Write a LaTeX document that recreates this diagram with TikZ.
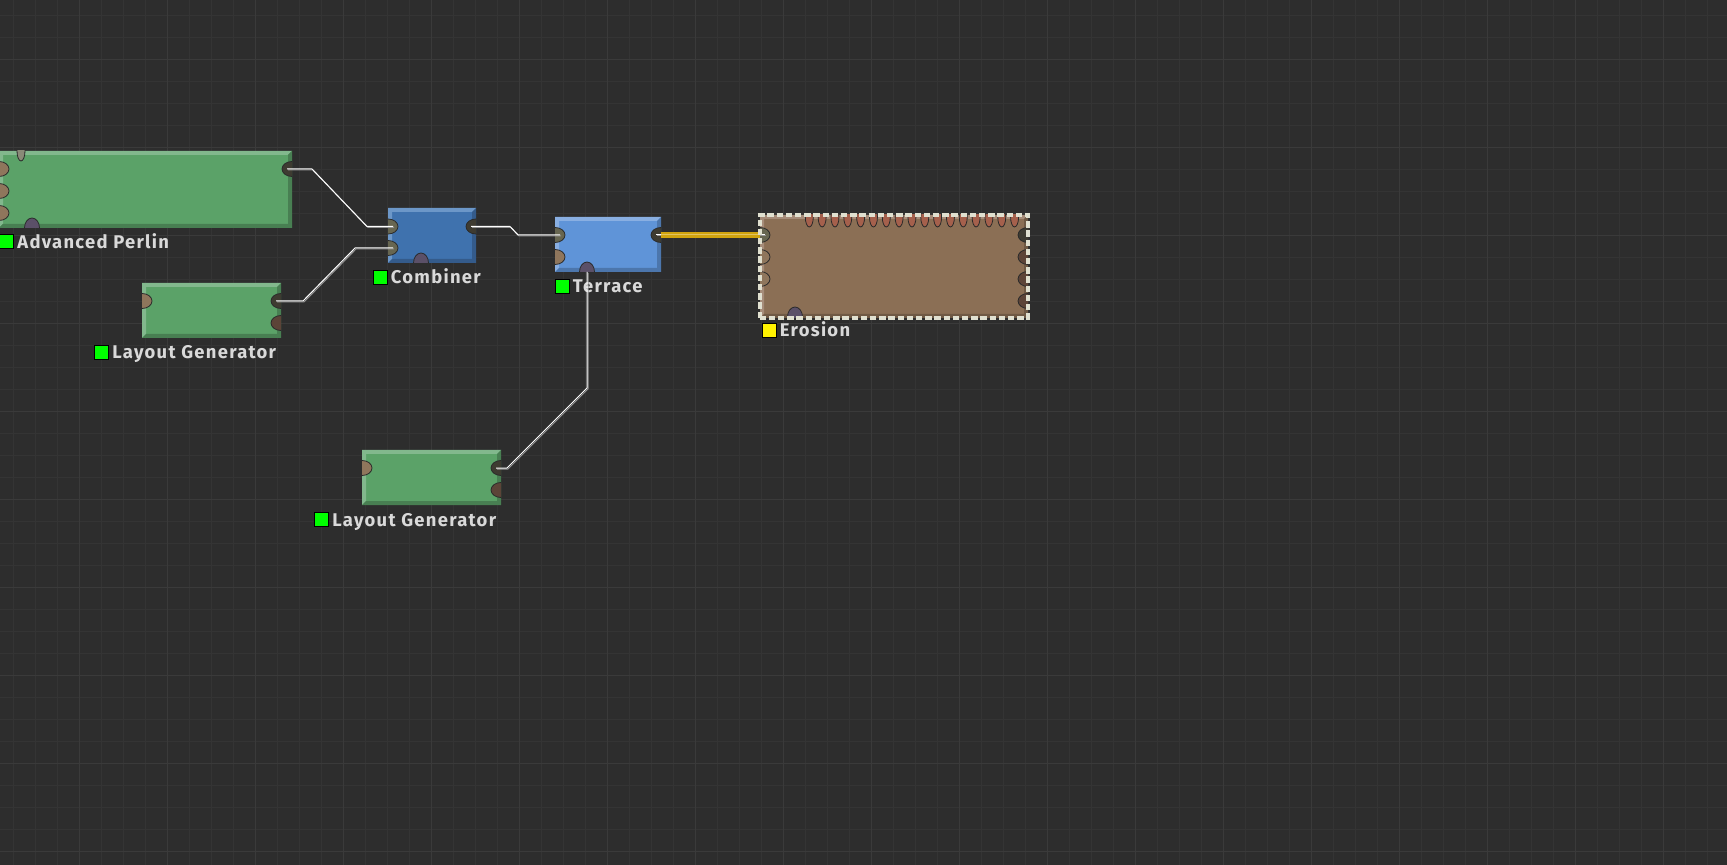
\documentclass[tikz,border=0pt]{standalone}
\usepackage{fontspec}
\usepackage{tikz}
\usetikzlibrary{positioning,shapes.geometric}
\newfontfamily\capfont[LetterSpace=7]{Fira Sans}
\definecolor{canvas}{HTML}{2D2D2D}
\definecolor{gridminor}{HTML}{343434}
\definecolor{gridmajor}{HTML}{3A3A3A}
\definecolor{rim}{HTML}{2A2A2A}
\definecolor{tan}{HTML}{8F765C}
\definecolor{sage}{HTML}{676651}
\definecolor{soot}{HTML}{3E3B31}
\definecolor{umber}{HTML}{5C4438}
\definecolor{plum}{HTML}{5B5068}
\definecolor{clay}{HTML}{A5604C}
\definecolor{ash}{HTML}{8A8A78}
\definecolor{gold}{HTML}{D1A40F}
\definecolor{frame}{HTML}{E0E0D0}
\definecolor{greenmid}{HTML}{5BA268}
\definecolor{greenhi}{HTML}{82B88D}
\definecolor{greenlo}{HTML}{487F52}
\definecolor{navymid}{HTML}{3F72AE}
\definecolor{navyhi}{HTML}{6C97C8}
\definecolor{navylo}{HTML}{345B8B}
\definecolor{skymid}{HTML}{5F94D8}
\definecolor{skyhi}{HTML}{89AFE2}
\definecolor{skylo}{HTML}{4C76AC}
\definecolor{mudmid}{HTML}{8B6F55}
\definecolor{mudhi}{HTML}{A68C79}
\definecolor{mudlo}{HTML}{6F5944}
\definecolor{captext}{HTML}{D9D9D9}

\begin{document}
\begin{tikzpicture} [x=0.5pt, y=-0.5pt, node distance=1.5pt,
                    block/.style n args={3}{anchor=north west,inner sep=0pt,outer sep=0pt,fill=#1,
                        path picture={
                        \fill[#2] (path picture bounding box.south west) -- (path picture bounding box.north west)
                            -- (path picture bounding box.north east) -- ([shift={(-2pt,-2pt)}]path picture bounding box.north east)
                            -- ([shift={(2pt,-2pt)}]path picture bounding box.north west)
                            -- ([shift={(2pt,2pt)}]path picture bounding box.south west) -- cycle;
                        \fill[#3] (path picture bounding box.south west) -- (path picture bounding box.south east)
                            -- (path picture bounding box.north east) -- ([shift={(-2pt,-2pt)}]path picture bounding box.north east)
                            -- ([shift={(-2pt,2pt)}]path picture bounding box.south east)
                            -- ([shift={(2pt,2pt)}]path picture bounding box.south west) -- cycle;}},
                    greenblock/.style={block={greenmid}{greenhi}{greenlo}},
                    port/.style={ellipse,inner sep=0pt,outer sep=0pt,draw=rim,line width=0.4pt,fill=#1},
                    sideport/.style={port=#1,minimum width=10pt,minimum height=7.5pt},
                    bottomport/.style={port=#1,minimum width=7.5pt,minimum height=10pt},
                    topport/.style={port=#1,minimum width=4pt,minimum height=10pt},
                    flag/.style={draw=black,line width=0.5pt,minimum size=7pt,inner sep=0pt,fill=#1},
                    caption/.style={text=captext,font=\capfont\bfseries\fontsize{9.2pt}{10pt}\selectfont,inner sep=0pt,text height=6.5pt,text depth=0pt},
                    wire/.style={draw=white,line width=0.5pt,
                        preaction={draw=gray!85,line width=0.5pt,transform canvas={shift={(0.5pt,-0.5pt)}}}}]

\useasboundingbox (0,0) rectangle (1727,865);
\fill[canvas] (0,0) rectangle (1727,865);

\foreach \k in {0,...,78}
    \draw[gridminor,line width=0.5pt] ({13.5+22*\k},0) -- ({13.5+22*\k},865);
\foreach \k in {0,...,39}
    \draw[gridminor,line width=0.5pt] (0,{15.5+22*\k}) -- (1727,{15.5+22*\k});
\foreach \k in {0,...,18}
    \draw[gridmajor,line width=0.5pt] ({79.5+88*\k},0) -- ({79.5+88*\k},865);
\foreach \k in {0,...,9}
    \draw[gridmajor,line width=0.5pt] (0,{59.5+88*\k}) -- (1727,{59.5+88*\k});

% blocks
\node[greenblock,minimum width=146.5pt,minimum height=38.5pt] (perlin) at (-1,151) {};
\node[greenblock,minimum width=69.5pt,minimum height=27.5pt] (layoutA) at (142,283) {};
\node[block={navymid}{navyhi}{navylo},minimum width=44pt,minimum height=27.5pt] (combiner) at (388,208) {};
\node[block={skymid}{skyhi}{skylo},minimum width=53pt,minimum height=27.5pt] (terrace) at (555,217) {};
\node[block={mudmid}{mudhi}{mudlo},minimum width=134pt,minimum height=51.5pt] (erosion) at (760,215) {};
\node[greenblock,minimum width=69.5pt,minimum height=27.5pt] (layoutB) at (362,450) {};

% ports
\begin{scope}
\clip (perlin.south west) rectangle (perlin.north east);
\node[sideport=tan] (perlinInA) at (-1,169) {};
\node[sideport=tan] (perlinInB) at (-1,191) {};
\node[sideport=tan] (perlinInC) at (-1,213) {};
\node[sideport=soot] (perlinOut) at (292,169) {};
\node[topport=ash] (perlinTop) at (21,151) {};
\node[bottomport=plum] (perlinLow) at (32,228) {};
\end{scope}
\begin{scope}
\clip (layoutA.south west) rectangle (layoutA.north east);
\node[sideport=tan] (layoutAIn) at (142,301) {};
\node[sideport=soot] (layoutAOut) at (281,301) {};
\node[sideport=umber] (layoutAAlt) at (281,323) {};
\end{scope}
\begin{scope}
\clip (combiner.south west) rectangle (combiner.north east);
\node[sideport=sage] (combinerInA) at (388,226.5) {};
\node[sideport=sage] (combinerInB) at (388,248) {};
\node[sideport=soot] (combinerOut) at (476,226.5) {};
\node[bottomport=plum] (combinerLow) at (421,263) {};
\end{scope}
\begin{scope}
\clip (terrace.south west) rectangle (terrace.north east);
\node[sideport=sage] (terraceInA) at (555,235) {};
\node[sideport=tan] (terraceInB) at (555,257) {};
\node[sideport=soot] (terraceOut) at (661,235) {};
\node[bottomport=plum] (terraceLow) at (587,272) {};
\end{scope}
\begin{scope}
\clip (erosion.south west) rectangle (erosion.north east);
\node[sideport=sage] (erosionInA) at (760,235) {};
\node[sideport=tan] (erosionInB) at (760,257) {};
\node[sideport=tan] (erosionInC) at (760,279) {};
\node[sideport=soot] (erosionOutA) at (1028,235) {};
\node[sideport=umber] (erosionOutB) at (1028,257) {};
\node[sideport=umber] (erosionOutC) at (1028,279) {};
\node[sideport=umber] (erosionOutD) at (1028,301) {};
\node[bottomport=plum] (erosionLow) at (795,317) {};
\foreach \k in {0,...,16}
    \node[topport=clay] (erosionTop\k) at ({809.3+12.83*\k},217) {};
\end{scope}
\begin{scope}
\clip (layoutB.south west) rectangle (layoutB.north east);
\node[sideport=tan] (layoutBIn) at (362,468) {};
\node[sideport=soot] (layoutBOut) at (501,468) {};
\node[sideport=umber] (layoutBAlt) at (501,490) {};
\end{scope}

% captions
\node[flag=green] (perlinFlag) at (6.5,242) {};
\node[caption] (perlinCap) [right=of perlinFlag] {Advanced Perlin};
\node[flag=green] (layoutAFlag) at (101.5,352.5) {};
\node[caption] (layoutACap) [right=of layoutAFlag] {Layout Generator};
\node[flag=green] (combinerFlag) at (380,277.5) {};
\node[caption] (combinerCap) [right=of combinerFlag] {Combiner};
\node[flag=green] (terraceFlag) at (562,286.5) {};
\node[caption] (terraceCap) [right=of terraceFlag] {Terrace};
\node[flag=yellow] (erosionFlag) at (769,330.5) {};
\node[caption] (erosionCap) [right=of erosionFlag] {Erosion};
\node[flag=green] (layoutBFlag) at (321.5,519.5) {};
\node[caption] (layoutBCap) [right=of layoutBFlag] {Layout Generator};

% connectors
\coordinate (perlinBendA) at (312,169);
\coordinate (perlinBendB) at (367,226.5);
\coordinate (layoutABendA) at (303,301);
\coordinate (layoutABendB) at (355,248);
\coordinate (combinerBendA) at (510,226.5);
\coordinate (combinerBendB) at (518,235);
\coordinate (layoutBBendA) at (507,468);
\coordinate (layoutBBendB) at (587,388);

\draw[wire] ([xshift=-2.5pt]perlinOut.center) -- (perlinBendA) -- (perlinBendB) -- ([xshift=2.5pt]combinerInA.center);
\draw[wire] ([xshift=-2.5pt]layoutAOut.center) -- (layoutABendA) -- (layoutABendB) -- ([xshift=2.5pt]combinerInB.center);
\draw[wire] ([xshift=-2.5pt]combinerOut.center) -- (combinerBendA) -- (combinerBendB) -- ([xshift=2.5pt]terraceInA.center);
\draw[wire] ([xshift=-2.5pt]layoutBOut.center) -- (layoutBBendA) -- (layoutBBendB) -- (terraceLow.center);
\draw[wire] ([xshift=-2.5pt]terraceOut.center) -- ([xshift=2.5pt]erosionInA.center);
\draw[gold,line width=2.6pt] (terraceOut.center) -- (erosionInA.center);
\draw[white,opacity=0.35,line width=0.5pt] (terraceOut.center) -- (erosionInA.center);

% selection frame
\draw[frame,line width=2pt,dash pattern=on 3.2pt off 1.4pt] (erosion.south west) rectangle (erosion.north east);
\end{tikzpicture}
\end{document}
